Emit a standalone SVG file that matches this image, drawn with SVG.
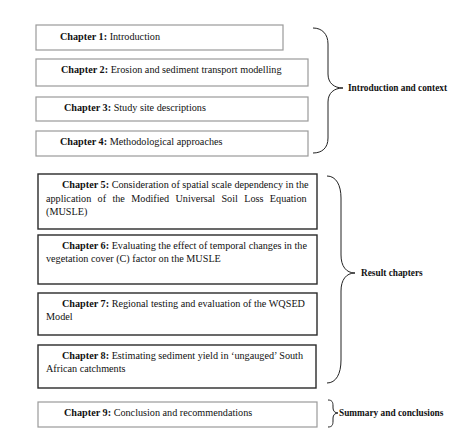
<svg xmlns="http://www.w3.org/2000/svg" width="474" height="432" viewBox="0 0 474 432">
<style>
text{font-family:"Liberation Serif","Times New Roman",serif;fill:#111;}
.t{font-size:10.2px;}
.b{font-weight:bold;}
.lab{font-size:9.3px;font-weight:bold;}
.lite{fill:#fff;stroke:#9a9a9a;stroke-width:1.2;}
.dark{fill:#fff;stroke:#2a2a2a;stroke-width:1.4;}
.brace{fill:none;stroke:#222;stroke-width:1;}
</style>
<rect width="474" height="432" fill="#fff"/>
<g id="ch1"><rect class="lite" x="36" y="25" width="247" height="25"/><text class="t" x="60" y="40"><tspan class="b">Chapter 1:</tspan> Introduction</text></g>
<g id="ch2"><rect class="lite" x="36" y="59" width="272" height="27"/><text class="t" x="61" y="73"><tspan class="b">Chapter 2:</tspan> Erosion and sediment transport modelling</text></g>
<g id="ch3"><rect class="lite" x="36" y="97" width="272" height="24"/><text class="t" x="64" y="111"><tspan class="b">Chapter 3:</tspan> Study site descriptions</text></g>
<g id="ch4"><rect class="lite" x="36" y="131" width="272" height="25"/><text class="t" x="60" y="145"><tspan class="b">Chapter 4:</tspan> Methodological approaches</text></g>
<g id="ch5"><rect class="dark" x="38" y="174" width="279" height="55"/><text class="t" x="62" y="188"><tspan class="b">Chapter 5:</tspan> Consideration of spatial scale dependency in the</text><text class="t" x="46" y="201.5" word-spacing="3.8">application of the Modified Universal Soil Loss Equation</text><text class="t" x="46" y="214.5">(MUSLE)</text></g>
<g id="ch6"><rect class="dark" x="38" y="235" width="279" height="49"/><text class="t" x="62" y="249"><tspan class="b">Chapter 6:</tspan> Evaluating the effect of temporal changes in the</text><text class="t" x="46" y="262">vegetation cover (C) factor on the MUSLE</text></g>
<g id="ch7"><rect class="dark" x="38" y="293" width="279" height="42"/><text class="t" x="62" y="307"><tspan class="b">Chapter 7:</tspan> Regional testing and evaluation of the WQSED</text><text class="t" x="46" y="319.5">Model</text></g>
<g id="ch8"><rect class="dark" x="38" y="345" width="278" height="43"/><text class="t" x="62" y="359"><tspan class="b">Chapter 8:</tspan> Estimating sediment yield in ‘ungauged’ South</text><text class="t" x="46" y="372">African catchments</text></g>
<g id="ch9"><rect class="lite" x="38" y="402" width="279" height="25"/><text class="t" x="64" y="416"><tspan class="b">Chapter 9:</tspan> Conclusion and recommendations</text></g>
<g id="connectors">
<path class="brace" d="M313,28 C322,28 328,34 328,44 L328,74 C328,83 334,88 343,88 C334,88 328,93 328,102 L328,138 C328,148 322,153 313,153"/>
<path class="brace" d="M327,176 C336,176 341,185 341,198 L341,255 C341,266 346,273 355,273 C346,273 341,280 341,291 L341,360 C341,374 336,383 327,383"/>
<path class="brace" d="M328,400 C332,400 333,402 333,406 L333,408 C333,411 335,413 338,413 C335,413 333,415 333,418 L333,421 C333,425 332,427 328,427"/>
</g>
<g id="labels">
<text class="lab" x="348" y="91">Introduction and context</text>
<text class="lab" x="361" y="276">Result chapters</text>
<text class="lab" x="339" y="415.5">Summary and conclusions</text>
</g>
</svg>
